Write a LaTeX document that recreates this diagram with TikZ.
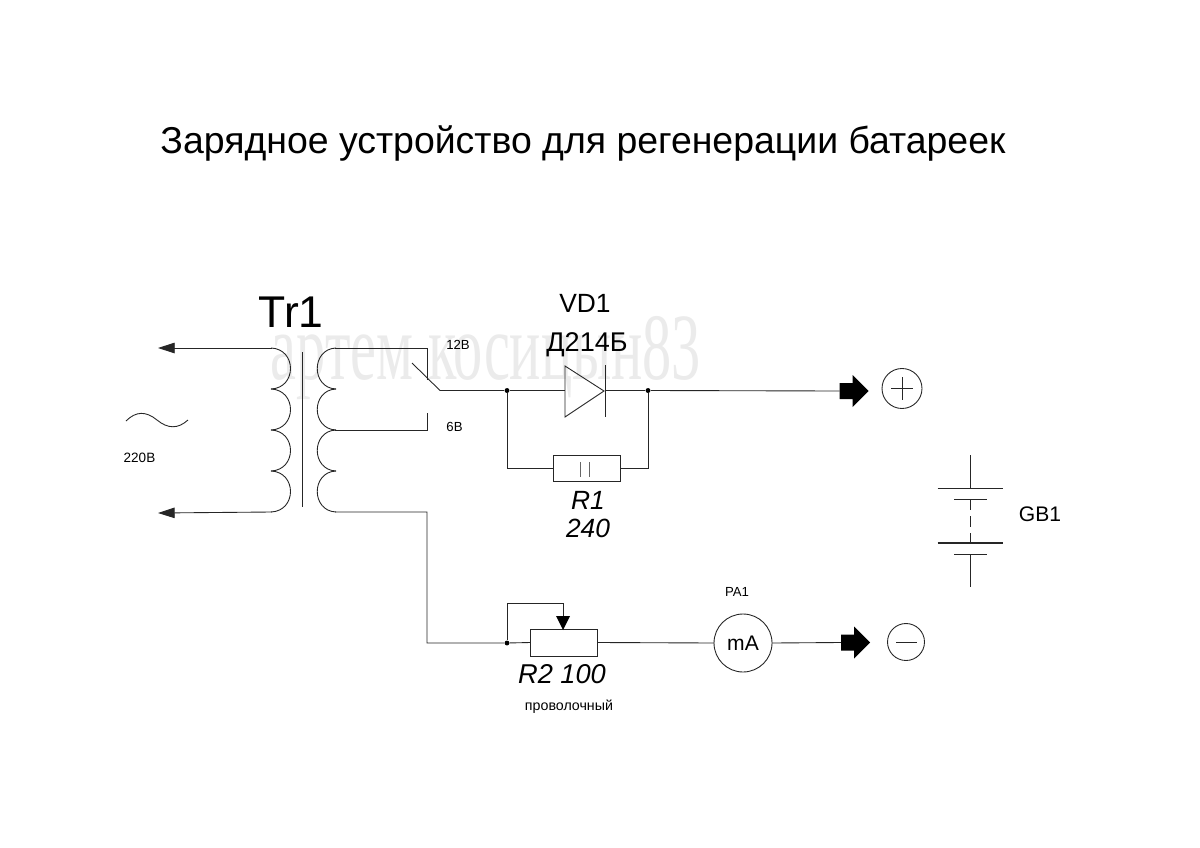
\documentclass[tikz,border=0pt]{standalone}
\usepackage{fontspec}
\setmainfont{Liberation Sans}
\newfontfamily\markfont{Liberation Serif}
\usetikzlibrary{arrows.meta, positioning, calc}
\newcommand{\drawfatarrow}[1]{
    \begin{scope}[shift={(#1)}]
        \fill[black] (0,-8) -- (13,-8) -- (13,-16) -- (29,0) -- (13,16) -- (13,8) -- (0,8) -- cycle;
    \end{scope}
}
\newcommand{\fsize}[1]{\fontsize{#1}{#1}\selectfont}

\begin{document}
\begin{tikzpicture}[x=0.02cm, y=-0.02cm,
    wire/.style={draw=black!85, line width=0.5pt},
    lead/.style={wire, -{Triangle[length=9.5pt, width=6pt]}},
    box/.style={wire, rectangle, fill=white, minimum width=1.34cm, minimum height=0.52cm, inner sep=0pt, outer sep=0pt},
    dot/.style={circle, fill=black, minimum size=2.8pt, inner sep=0pt},
    port/.style={wire, circle, inner sep=0pt, outer sep=0pt},
    smalltext/.style={inner sep=0pt, font=\fsize{7.5}},
    parttext/.style={inner sep=0pt, font=\fsize{15}},
    valtext/.style={inner sep=0pt, font=\fsize{15.5}\itshape}
]
\useasboundingbox (0,0) rectangle (1200,848);
\fill[white] (0,0) rectangle (1200,848);

% Watermark
\node[inner sep=0pt, text=black!8] (stamp) at (486,358) {\scalebox{0.615}[1]{\markfont\fsize{54}артем косицын83}};

% Title
\node[inner sep=0pt, font=\fsize{21.3}] (title) at (583,143) {Зарядное устройство для регенерации батареек};

% Transformer primary
\coordinate (priA) at (272,348);
\coordinate (priB) at (272,512);
\coordinate (mainsA) at (158,348);
\coordinate (mainsB) at (158,513);
\foreach \y in {348,389,430,471} {
    \draw[wire] (271,\y) .. controls (297,\y+1) and (297,\y+40) .. (271,\y+41);
}
\draw[lead] (priA) -- (mainsA);
\draw[lead] (priB) -- (mainsB);

% Core
\coordinate (coreA) at (302,352);
\coordinate (coreB) at (302,507);
\draw[wire] (coreA) -- (coreB);

% Transformer secondary
\foreach \y in {348,389,430,471} {
    \draw[wire] (336,\y) .. controls (311,\y+1) and (311,\y+40) .. (336,\y+41);
}
\coordinate (secA) at (335,348);
\coordinate (secB) at (335,430);
\coordinate (secC) at (335,512);

% Switch contacts
\coordinate (tapA) at (427,348);
\coordinate (endA) at (427,380);
\coordinate (tapB) at (427,430);
\coordinate (endB) at (427,413);
\coordinate (tapC) at (427,643);
\draw[wire] (secA) -- (tapA) -- (endA);
\draw[wire] (secB) -- (tapB) -- (endB);
\coordinate (blade) at (412,363);
\coordinate (pivot) at (440,390.5);
\draw[wire] (blade) -- (pivot);

% Diode
\node[dot] (nodeA) at (507,390.5) {};
\node[dot] (nodeB) at (648,390.5) {};
\coordinate (anode) at (565,390.5);
\coordinate (cathode) at (605.5,390.5);
\draw[wire] (565,366) -- (604,391) -- (565,417) -- cycle;
\draw[wire] (605.5,365) -- (605.5,417);
\draw[wire] (pivot) -- (nodeA) -- (anode);

% Resistor R1
\node[box] (resA) at (587,468) {};
\draw[wire, draw=black!60] (580,462) -- (580,477);
\draw[wire, draw=black!60] (589,462) -- (589,477);
\draw[wire] (nodeA) |- (resA.west);
\draw[wire] (nodeB) |- (resA.east);

% Output terminals
\coordinate (arrowA) at (839.5,391);
\coordinate (arrowB) at (841,642.5);
\draw[wire] (cathode) -- (nodeB) -- (arrowA);
\drawfatarrow{839.5,391}
\drawfatarrow{841,642.5}
\node[port, minimum size=0.8cm] (plus) at (902,388.5) {};
\draw[wire] (891,388.5) -- (913,388.5);
\draw[wire] (902,377) -- (902,400);
\node[port, minimum size=0.74cm] (minus) at (906,642) {};
\draw[wire] (896,642) -- (917,642);

% Lower branch with rheostat and meter
\node[box, minimum height=0.54cm] (resB) at (564,642.5) {};
\node[dot] (nodeC) at (507,643) {};
\node[port, minimum size=1.16cm, font=\fsize{12}] (meter) at (743,643) {mA};
\draw[wire] (secC) -- (427,512) -- (tapC) -- (nodeC) -- (resB.west);
\draw[wire] (resB.east) -- (meter.west);
\draw[wire] (meter.east) -- (arrowB);
\coordinate (wiper) at (563,603);
\draw[wire] (nodeC) |- (wiper) -- (563,617);
\fill[black] (556,616) -- (570,616) -- (563,630) -- cycle;

% Battery
\draw[wire] (970,455) -- (970,488);
\draw[wire] (937.5,488) -- (1003,488);
\draw[wire] (954,499) -- (987,499);
\draw[wire] (970,499) -- (970,510);
\draw[wire] (970,516) -- (970,527);
\draw[wire] (970,533) -- (970,543);
\draw[wire, line width=0.9pt] (937.5,543) -- (1003,543);
\draw[wire] (954,554) -- (987,554);
\draw[wire] (970,554) -- (970,587);

% Mains symbol
\draw[wire] (126,421) .. controls (136,411) and (146,411) .. (157,420) .. controls (168,429) and (178,429) .. (188,420);

% Labels
\node[inner sep=0pt, font=\fsize{25.3}] (tr) at (291,312) {Tr1};
\node[smalltext, font=\fsize{7.7}] (volt) at (139.5,458) {220В};
\node[smalltext] (high) at (458,345) {12В};
\node[smalltext] (low) at (454.5,427) {6В};
\node[parttext] (vd) at (585,303) {VD1};
\node[parttext, font=\fsize{15.4}] (type) at (587,345) {Д214Б};
\node[valtext, font=\fsize{15}\itshape] (ra) at (588,500) {R1};
\node[valtext, font=\fsize{15}\itshape] (rb) at (588,528) {240};
\node[valtext] (rc) at (562,674) {R2 100};
\node[smalltext, font=\fsize{8.1}] (wirewound) at (569,707) {проволочный};
\node[smalltext] (pa) at (737,592) {PA1};
\node[parttext, font=\fsize{12}] (gb) at (1040,514) {GB1};

\end{tikzpicture}
\end{document}
